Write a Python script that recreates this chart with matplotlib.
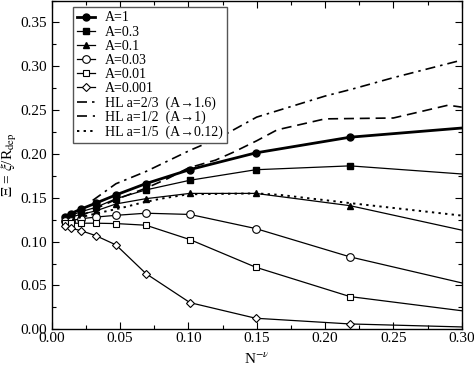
import matplotlib
matplotlib.use("Agg")
import matplotlib.pyplot as plt
from matplotlib.ticker import MultipleLocator, FormatStrFormatter

plt.rcParams['font.family'] = ['Liberation Serif', 'DejaVu Serif']
plt.rcParams['mathtext.fontset'] = 'stix'

# ---- data ----
x_sim = [0.0098, 0.0141, 0.0212, 0.0322, 0.0471, 0.069, 0.1012, 0.1493, 0.2183, 0.3191]
A1    = [0.1286, 0.132, 0.137, 0.1438, 0.1533, 0.1662, 0.1822, 0.2012, 0.2191, 0.232]
A03   = [0.127, 0.130, 0.134, 0.139, 0.149, 0.159, 0.170, 0.182, 0.1864, 0.175]
A01   = [0.126, 0.128, 0.131, 0.135, 0.143, 0.149, 0.155, 0.155, 0.141, 0.1066]
A003  = [0.123, 0.124, 0.126, 0.128, 0.130, 0.1324, 0.131, 0.1149, 0.0826, 0.046]
A001  = [0.121, 0.121, 0.121, 0.121, 0.1206, 0.1187, 0.1023, 0.0708, 0.0373, 0.0174]
A0001 = [0.118, 0.1153, 0.1126, 0.1069, 0.0962, 0.0635, 0.0304, 0.0126, 0.0061, 0.0019]

x_hl23 = [0.030, 0.047, 0.069, 0.101, 0.122, 0.150, 0.200, 0.220, 0.250, 0.300]
y_hl23 = [0.147, 0.166, 0.180, 0.204, 0.218, 0.242, 0.266, 0.274, 0.287, 0.307]

x_hl12 = [0.020, 0.030, 0.047, 0.069, 0.085, 0.100, 0.120, 0.133, 0.150, 0.165, 0.200, 0.250, 0.290, 0.300]
y_hl12 = [0.128, 0.136, 0.148, 0.161, 0.172, 0.184, 0.193, 0.202, 0.215, 0.2275, 0.240, 0.241, 0.2556, 0.2534]

x_hl15 = [0.015, 0.023, 0.035, 0.050, 0.065, 0.080, 0.100, 0.150, 0.167, 0.218, 0.300]
y_hl15 = [0.125, 0.1285, 0.133, 0.138, 0.144, 0.149, 0.154, 0.155, 0.1533, 0.144, 0.1297]

labels = ['A=1', 'A=0.3', 'A=0.1', 'A=0.03', 'A=0.01', 'A=0.001',
          'HL a=2/3  (A\u21921.6)', 'HL a=1/2  (A\u21921)', 'HL a=1/5  (A\u21920.12)']

x_ticks = [0.00, 0.05, 0.10, 0.15, 0.20, 0.25, 0.30]
y_ticks = [0.00, 0.05, 0.10, 0.15, 0.20, 0.25, 0.30, 0.35]

# ---- figure ----
fig = plt.figure(figsize=(4.74, 3.69), dpi=100)
ax = fig.add_axes([0.109, 0.1076, 0.865, 0.891])

lw = 0.9
ax.plot(x_sim, A1, '-', color='black', lw=2.0, marker='o', ms=5, mfc='black', mec='black', label=labels[0])
ax.plot(x_sim, A03, '-', color='black', lw=lw, marker='s', ms=4.2, mfc='black', mec='black', label=labels[1])
ax.plot(x_sim, A01, '-', color='black', lw=lw, marker='^', ms=5, mfc='black', mec='black', label=labels[2])
ax.plot(x_sim, A003, '-', color='black', lw=lw, marker='o', ms=5.5, mfc='white', mec='black', mew=0.8, label=labels[3])
ax.plot(x_sim, A001, '-', color='black', lw=lw, marker='s', ms=4.8, mfc='white', mec='black', mew=0.8, label=labels[4])
ax.plot(x_sim, A0001, '-', color='black', lw=lw, marker='D', ms=4.2, mfc='white', mec='black', mew=0.8, label=labels[5])
ax.plot(x_hl23, y_hl23, color='black', lw=1.2, dashes=[6, 3, 1.5, 3], label=labels[6])
ax.plot(x_hl12, y_hl12, color='black', lw=1.2, dashes=[6, 3.5], label=labels[7])
ax.plot(x_hl15, y_hl15, color='black', lw=1.4, dashes=[1.2, 2.2], label=labels[8])

ax.set_xlim(0, 0.30)
ax.set_ylim(0, 0.375)
ax.set_xticks(x_ticks)
ax.set_yticks(y_ticks)
ax.xaxis.set_major_formatter(FormatStrFormatter('%.2f'))
ax.yaxis.set_major_formatter(FormatStrFormatter('%.2f'))
ax.xaxis.set_minor_locator(MultipleLocator(0.025))
ax.yaxis.set_minor_locator(MultipleLocator(0.025))
ax.tick_params(which='both', direction='in', top=True, right=True, labelsize=11)
ax.tick_params(which='major', length=5, width=0.8)
ax.tick_params(which='minor', length=3, width=0.8)
ax.tick_params(axis='x', pad=2)
ax.tick_params(axis='y', pad=3)
for s in ax.spines.values():
    s.set_linewidth(1.0)

ax.set_xlabel(r'N$^{-\nu}$', fontsize=11, labelpad=5)
ax.set_ylabel(r'$\Xi$ = $\xi$/R$_{\rm dep}$', fontsize=11, labelpad=1)

leg = ax.legend(loc='upper left', bbox_to_anchor=(0.045, 0.988), fontsize=10,
                frameon=True, fancybox=False, edgecolor='#555555', framealpha=1,
                handlelength=1.3, handletextpad=0.7, labelspacing=0.08,
                borderpad=0.3, borderaxespad=0.2)
leg.get_frame().set_linewidth(1.0)

fig.savefig('out.png', dpi=100)
